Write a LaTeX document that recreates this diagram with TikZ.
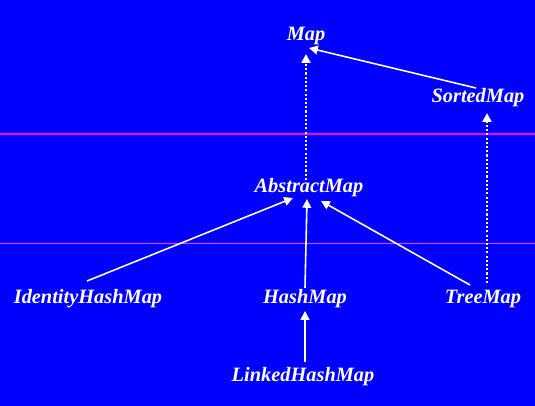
\documentclass[tikz,border=0pt]{standalone}
\usepackage{fontspec}
\setmainfont{Liberation Serif}
\usetikzlibrary{arrows.meta}
\definecolor{fond}{RGB}{0,0,255}
\definecolor{ligne}{RGB}{255,0,255}

\begin{document}
\begin{tikzpicture}[x=0.02cm,y=-0.02cm]
\tikzstyle{lien}=[-{Triangle[length=5pt,width=5pt]},white,line width=0.9pt]
\tikzstyle{impl}=[lien,line width=1.3pt,dash pattern=on 1.2pt off 1.2pt]
\tikzset{classe/.style={text=white,anchor=base,inner sep=0pt,
font=\fontsize{11.6}{14}\selectfont\bfseries\itshape}}
\fill[fond] (0,0) rectangle (535,406);
\useasboundingbox (0,0) rectangle (535,406);
\draw[ligne,line width=0.7pt] (0,134) -- (535,134);
\draw[ligne!80!white,line width=0.5pt] (0,243) -- (535,243);

\node[classe] (M) at (306,40) {Map};
\node[classe] (SM) at (478,102) {SortedMap};
\node[classe] (AM) at (309,192) {AbstractMap};
\node[classe] (IHM) at (88,303) {IdentityHashMap};
\node[classe] (HM) at (305,303) {HashMap};
\node[classe] (TM) at (483,303) {TreeMap};
\node[classe] (LHM) at (303,381) {LinkedHashMap};

\draw[lien] ([shift={(-2,-14)}]SM.base) -- ([shift={(3,8)}]M.base);
\draw[impl] ([shift={(-3,-12)}]AM.base) -- ([shift={(0,14)}]M.base);
\draw[impl] ([shift={(4,-20)}]TM.base) -- ([shift={(9,11)}]SM.base);
\draw[lien] ([shift={(-1,-22)}]IHM.base) -- ([shift={(-16,6)}]AM.base);
\draw[lien] ([shift={(0,-15)}]HM.base) -- ([shift={(-2,7)}]AM.base);
\draw[lien] ([shift={(-13,-18)}]TM.base) -- ([shift={(12,9)}]AM.base);
\draw[lien] ([shift={(2,-19)}]LHM.base) -- ([shift={(0,8)}]HM.base);

\end{tikzpicture}
\end{document}
